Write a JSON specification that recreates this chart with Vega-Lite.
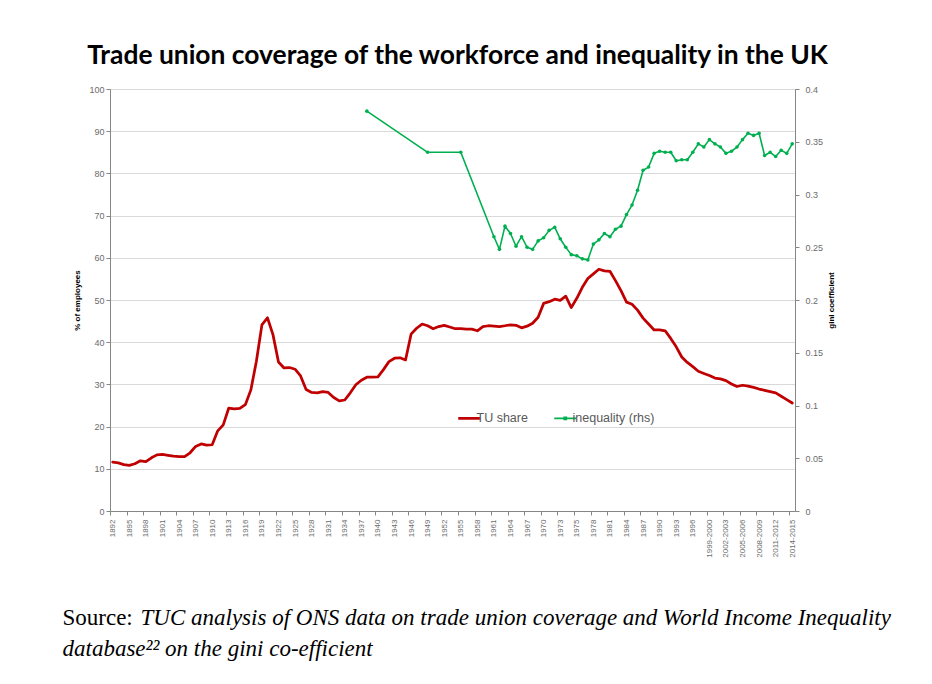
{
  "$schema": "https://vega.github.io/schema/vega-lite/v6.json",
  "autosize": {"type": "none"},
  "width": 685,
  "height": 422,
  "padding": {"left": 110, "top": 89, "right": 137, "bottom": 173},
  "background": "white",
  "title": {
    "text": "Trade union coverage of the workforce and inequality in the UK",
    "font": "Lato",
    "fontSize": 26.4,
    "fontWeight": "bold",
    "color": "#000000",
    "anchor": "middle",
    "baseline": "alphabetic",
    "offset": -5,
    "dx": 5
  },
  "data": {
    "values": [
      {"year": "1892", "tu": 11.6}, {"year": "1893", "tu": 11.4}, {"year": "1894", "tu": 11.0},
      {"year": "1895", "tu": 10.8}, {"year": "1896", "tu": 11.2}, {"year": "1897", "tu": 11.9},
      {"year": "1898", "tu": 11.7}, {"year": "1899", "tu": 12.6}, {"year": "1900", "tu": 13.3},
      {"year": "1901", "tu": 13.4}, {"year": "1902", "tu": 13.2}, {"year": "1903", "tu": 13.0},
      {"year": "1904", "tu": 12.9}, {"year": "1905", "tu": 12.9}, {"year": "1906", "tu": 13.8},
      {"year": "1907", "tu": 15.3}, {"year": "1908", "tu": 15.9}, {"year": "1909", "tu": 15.6},
      {"year": "1910", "tu": 15.7}, {"year": "1911", "tu": 19.0}, {"year": "1912", "tu": 20.4},
      {"year": "1913", "tu": 24.4}, {"year": "1914", "tu": 24.2}, {"year": "1915", "tu": 24.3},
      {"year": "1916", "tu": 25.2}, {"year": "1917", "tu": 28.7}, {"year": "1918", "tu": 35.5},
      {"year": "1919", "tu": 44.1}, {"year": "1920", "tu": 45.8}, {"year": "1921", "tu": 41.8},
      {"year": "1922", "tu": 35.3}, {"year": "1923", "tu": 33.9}, {"year": "1924", "tu": 34.0},
      {"year": "1925", "tu": 33.6}, {"year": "1926", "tu": 32.0}, {"year": "1927", "tu": 28.8},
      {"year": "1928", "tu": 28.1}, {"year": "1929", "tu": 28.0}, {"year": "1930", "tu": 28.3},
      {"year": "1931", "tu": 28.1}, {"year": "1932", "tu": 26.9}, {"year": "1933", "tu": 26.1},
      {"year": "1934", "tu": 26.3}, {"year": "1935", "tu": 28.0}, {"year": "1936", "tu": 29.9},
      {"year": "1937", "tu": 31.0}, {"year": "1938", "tu": 31.7, "gini": 0.379}, {"year": "1939", "tu": 31.7},
      {"year": "1940", "tu": 31.8}, {"year": "1941", "tu": 33.5}, {"year": "1942", "tu": 35.4},
      {"year": "1943", "tu": 36.2}, {"year": "1944", "tu": 36.3}, {"year": "1945", "tu": 35.8},
      {"year": "1946", "tu": 41.9}, {"year": "1947", "tu": 43.3}, {"year": "1948", "tu": 44.3},
      {"year": "1949", "tu": 43.9, "gini": 0.340}, {"year": "1950", "tu": 43.2}, {"year": "1951", "tu": 43.7},
      {"year": "1952", "tu": 44.0}, {"year": "1953", "tu": 43.6}, {"year": "1954", "tu": 43.2},
      {"year": "1955", "tu": 43.2, "gini": 0.340}, {"year": "1956", "tu": 43.1}, {"year": "1957", "tu": 43.1},
      {"year": "1958", "tu": 42.7}, {"year": "1959", "tu": 43.7}, {"year": "1960", "tu": 43.9},
      {"year": "1961", "tu": 43.8, "gini": 0.260}, {"year": "1962", "tu": 43.7, "gini": 0.248},
      {"year": "1963", "tu": 43.9, "gini": 0.270}, {"year": "1964", "tu": 44.1, "gini": 0.263},
      {"year": "1965", "tu": 44.0, "gini": 0.251}, {"year": "1966", "tu": 43.4, "gini": 0.260},
      {"year": "1967", "tu": 43.8, "gini": 0.250}, {"year": "1968", "tu": 44.5, "gini": 0.248},
      {"year": "1969", "tu": 45.9, "gini": 0.256}, {"year": "1970", "tu": 49.2, "gini": 0.259},
      {"year": "1971", "tu": 49.6, "gini": 0.266}, {"year": "1972", "tu": 50.2, "gini": 0.269},
      {"year": "1973", "tu": 49.9, "gini": 0.258}, {"year": "1974", "tu": 50.9, "gini": 0.250},
      {"year": "1974 (2)", "tu": 48.2, "gini": 0.243}, {"year": "1975", "tu": 50.4, "gini": 0.242},
      {"year": "1976", "tu": 53.0, "gini": 0.239}, {"year": "1977", "tu": 55.1, "gini": 0.238},
      {"year": "1978", "tu": 56.2, "gini": 0.253}, {"year": "1979", "tu": 57.3, "gini": 0.257},
      {"year": "1980", "tu": 56.9, "gini": 0.263}, {"year": "1981", "tu": 56.8, "gini": 0.260},
      {"year": "1982", "tu": 54.6, "gini": 0.267}, {"year": "1983", "tu": 52.2, "gini": 0.270},
      {"year": "1984", "tu": 49.5, "gini": 0.281}, {"year": "1985", "tu": 49.0, "gini": 0.290},
      {"year": "1986", "tu": 47.6, "gini": 0.304}, {"year": "1987", "tu": 45.7, "gini": 0.323},
      {"year": "1988", "tu": 44.3, "gini": 0.326}, {"year": "1989", "tu": 42.9, "gini": 0.339},
      {"year": "1990", "tu": 42.9, "gini": 0.341}, {"year": "1991", "tu": 42.7, "gini": 0.340},
      {"year": "1992", "tu": 40.9, "gini": 0.340}, {"year": "1993", "tu": 38.9, "gini": 0.332},
      {"year": "1994", "tu": 36.5, "gini": 0.333}, {"year": "1995", "tu": 35.2, "gini": 0.333},
      {"year": "1996", "tu": 34.2, "gini": 0.340}, {"year": "1997", "tu": 33.1, "gini": 0.348},
      {"year": "1998", "tu": 32.6, "gini": 0.345}, {"year": "1999-2000", "tu": 32.1, "gini": 0.352},
      {"year": "2000-2001", "tu": 31.5, "gini": 0.348}, {"year": "2001-2002", "tu": 31.3, "gini": 0.345},
      {"year": "2002-2003", "tu": 30.9, "gini": 0.339}, {"year": "2003-2004", "tu": 30.1, "gini": 0.341},
      {"year": "2004-2005", "tu": 29.5, "gini": 0.345}, {"year": "2005-2006", "tu": 29.8, "gini": 0.352},
      {"year": "2006-2007", "tu": 29.6, "gini": 0.358}, {"year": "2007-2008", "tu": 29.3, "gini": 0.356},
      {"year": "2008-2009", "tu": 28.9, "gini": 0.358}, {"year": "2009-2010", "tu": 28.6, "gini": 0.337},
      {"year": "2010-2011", "tu": 28.3, "gini": 0.340}, {"year": "2011-2012", "tu": 28.0, "gini": 0.336},
      {"year": "2012-2013", "tu": 27.2, "gini": 0.342}, {"year": "2013-2014", "tu": 26.4, "gini": 0.339},
      {"year": "2014-2015", "tu": 25.6, "gini": 0.348}
    ]
  },
  "layer": [
    {
      "mark": {"type": "line", "strokeWidth": 2.75, "strokeJoin": "round", "strokeCap": "round"},
      "encoding": {
        "x": {
          "field": "year",
          "type": "ordinal",
          "sort": null,
          "scale": {"type": "point", "padding": 0.5},
          "axis": {
            "orient": "bottom",
            "values": ["1892", "1895", "1898", "1901", "1904", "1907", "1910", "1913", "1916", "1919", "1922", "1925", "1928", "1931", "1934", "1937", "1940", "1943", "1946", "1949", "1952", "1955", "1958", "1961", "1964", "1967", "1970", "1973", "1975", "1978", "1981", "1984", "1987", "1990", "1993", "1996", "1999-2000", "2002-2003", "2005-2006", "2008-2009", "2011-2012", "2014-2015"],
            "labelAngle": -90,
            "labelFont": "Liberation Sans",
            "labelFontSize": 8,
            "labelColor": "#6b6b6b",
            "labelPadding": 4,
            "tickSize": 4,
            "tickColor": "#868686",
            "domainColor": "#868686",
            "tickOffset": -2.762,
            "labelOffset": 2.762,
            "grid": false,
            "title": "Source:",
            "titleFont": "Liberation Serif",
            "titleFontSize": 23,
            "titleFontWeight": "normal",
            "titleColor": "#000000",
            "titleAngle": 0,
            "titleAlign": "left",
            "titleBaseline": "alphabetic",
            "titleX": -48,
            "titleY": 113
          }
        },
        "y": {
          "field": "tu",
          "type": "quantitative",
          "scale": {"domain": [0, 100], "nice": false},
          "axis": {
            "orient": "left",
            "values": [0, 10, 20, 30, 40, 50, 60, 70, 80, 90, 100],
            "grid": true,
            "gridColor": "#d9d9d9",
            "gridWidth": 1,
            "domainColor": "#868686",
            "tickColor": "#868686",
            "tickSize": 4,
            "labelFont": "Liberation Sans",
            "labelFontSize": 9,
            "labelColor": "#6b6b6b",
            "labelPadding": 2,
            "title": "% of employees",
            "titleFont": "Liberation Sans",
            "titleFontSize": 8,
            "titleFontWeight": "bold",
            "titleColor": "#000000",
            "titleAngle": 270,
            "titleAlign": "center",
            "titleBaseline": "middle",
            "titleX": -33,
            "titleY": 211
          }
        },
        "color": {
          "datum": "TU share",
          "type": "nominal",
          "scale": {"domain": ["TU share", "inequality (rhs)"], "range": ["#c00000", "#00b050"]},
          "legend": {
            "orient": "none",
            "legendX": 353,
            "legendY": 323,
            "direction": "horizontal",
            "title": null,
            "padding": 0,
            "symbolType": "stroke",
            "symbolSize": 484,
            "symbolStrokeWidth": 2.5,
            "labelFont": "Liberation Sans",
            "labelFontSize": 12.5,
            "labelColor": "#595959",
            "labelOffset": 1,
            "columnPadding": 23,
            "encode": {
              "symbols": {
                "update": {
                  "shape": {"signal": "datum.value === 'TU share' ? 'M-1,0H1' : 'M-1,0H1M-0.1,-0.1H0.1V0.1H-0.1Z'"},
                  "strokeWidth": {"signal": "datum.value === 'TU share' ? 2.75 : 1.6"}
                }
              }
            }
          }
        }
      }
    },
    {
      "transform": [{"filter": "isValid(datum.gini)"}],
      "mark": {"type": "line", "strokeWidth": 1.6, "strokeJoin": "round"},
      "encoding": {
        "x": {
          "field": "year",
          "type": "ordinal",
          "sort": null,
          "axis": {
            "orient": "bottom",
            "domain": false,
            "ticks": false,
            "labels": false,
            "grid": false,
            "title": "TUC analysis of ONS data on trade union coverage and World Income Inequality",
            "titleFont": "Liberation Serif",
            "titleFontSize": 23,
            "titleFontStyle": "italic",
            "titleFontWeight": "normal",
            "titleColor": "#000000",
            "titleAngle": 0,
            "titleAlign": "left",
            "titleBaseline": "alphabetic",
            "titleX": 30,
            "titleY": 113
          }
        },
        "y": {
          "field": "gini",
          "type": "quantitative",
          "scale": {"domain": [0, 0.4], "nice": false},
          "axis": {
            "orient": "right",
            "values": [0, 0.05, 0.1, 0.15, 0.2, 0.25, 0.3, 0.35, 0.4],
            "format": "~g",
            "grid": false,
            "domainColor": "#868686",
            "tickColor": "#868686",
            "tickSize": 4,
            "labelFont": "Liberation Sans",
            "labelFontSize": 9,
            "labelColor": "#6b6b6b",
            "labelPadding": 6,
            "title": "gini coefficient",
            "titleFont": "Liberation Sans",
            "titleFontSize": 8,
            "titleFontWeight": "bold",
            "titleColor": "#000000",
            "titleAngle": 270,
            "titleAlign": "center",
            "titleBaseline": "middle",
            "titleX": 36,
            "titleY": 211
          }
        },
        "color": {"datum": "inequality (rhs)", "type": "nominal"}
      }
    },
    {
      "transform": [{"filter": "isValid(datum.gini)"}],
      "mark": {"type": "point", "filled": true, "size": 13, "opacity": 1},
      "encoding": {
        "x": {
          "field": "year",
          "type": "ordinal",
          "sort": null,
          "axis": {
            "orient": "bottom",
            "domain": false,
            "ticks": false,
            "labels": false,
            "grid": false,
            "title": "database²² on the gini co-efficient",
            "titleFont": "Liberation Serif",
            "titleFontSize": 23,
            "titleFontStyle": "italic",
            "titleFontWeight": "normal",
            "titleColor": "#000000",
            "titleAngle": 0,
            "titleAlign": "left",
            "titleBaseline": "alphabetic",
            "titleX": -48,
            "titleY": 144
          }
        },
        "y": {
          "field": "gini",
          "type": "quantitative",
          "scale": {"domain": [0, 0.4], "nice": false},
          "axis": null
        },
        "color": {"datum": "inequality (rhs)", "type": "nominal"}
      }
    }
  ],
  "resolve": {"scale": {"y": "independent"}, "axis": {"x": "independent"}},
  "config": {
    "view": {"stroke": null},
    "axis": {"domainWidth": 1, "tickWidth": 1}
  }
}
